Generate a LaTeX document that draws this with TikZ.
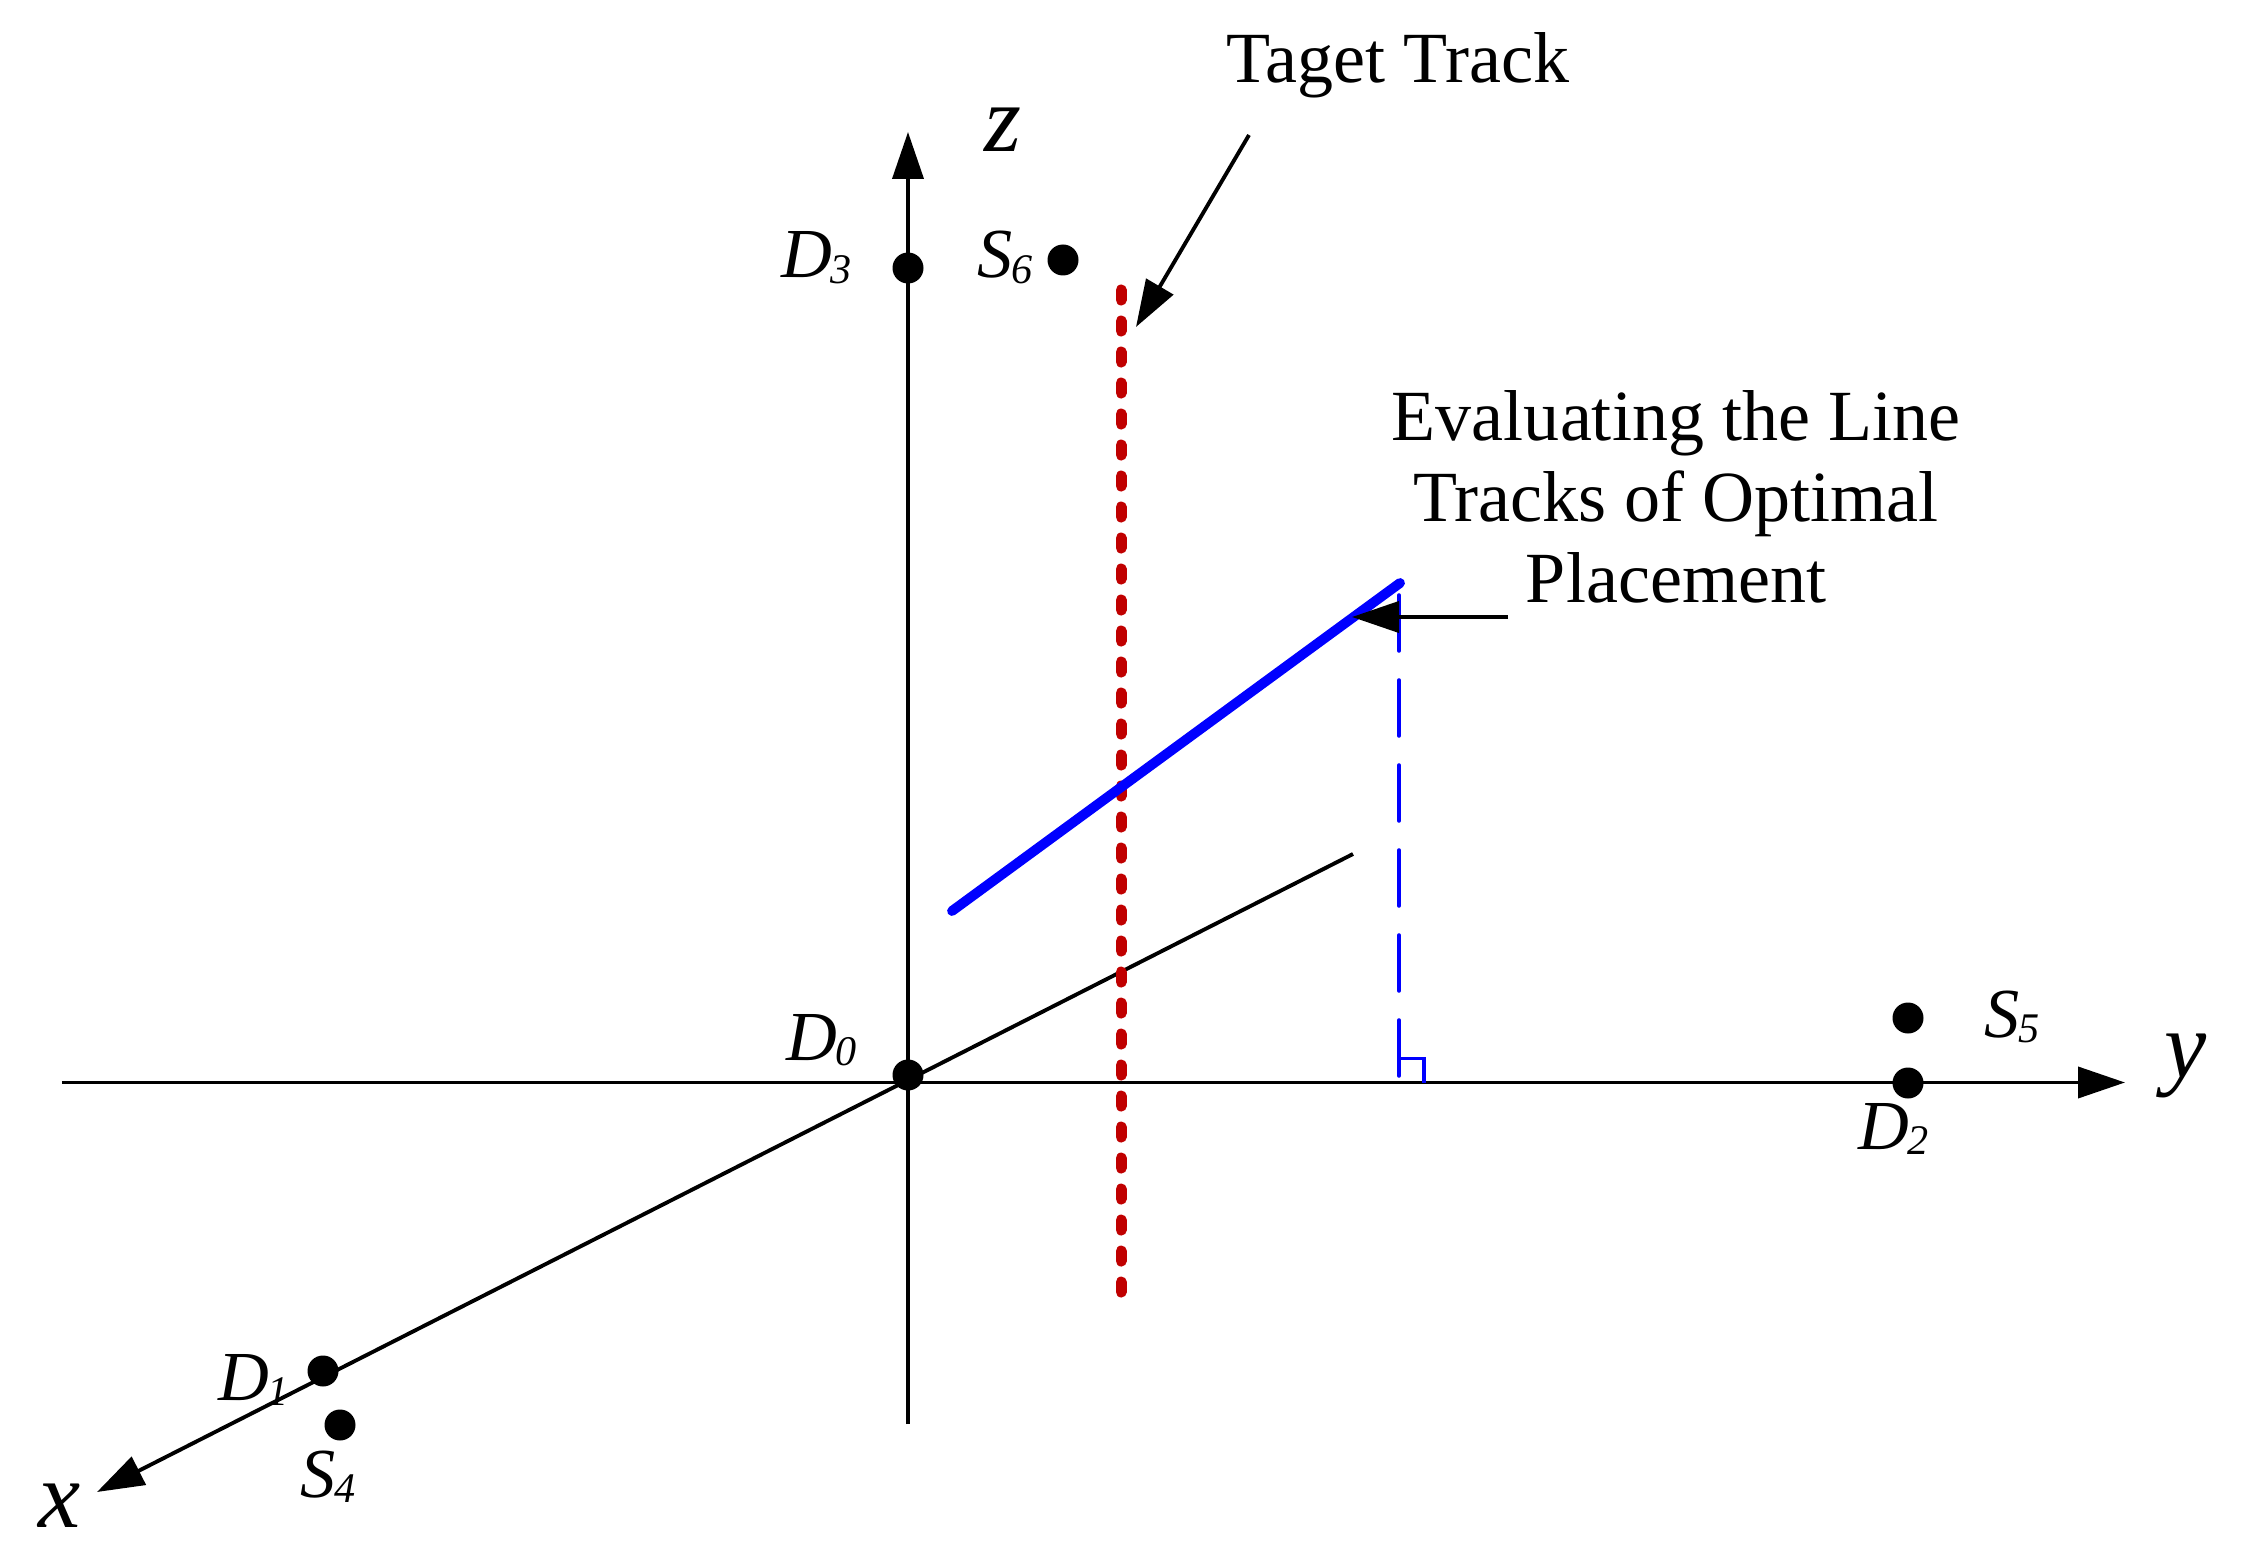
\documentclass[tikz,border=0pt]{standalone}
\usepackage{fontspec}
\setmainfont{Liberation Serif}
\usetikzlibrary{arrows.meta}
\definecolor{trackred}{RGB}{192, 0, 0}
\definecolor{trackblue}{RGB}{0, 0, 255}
\newcommand{\ptname}[2]{\textit{#1}\kern-0.5pt\raisebox{-1.5pt}{\fontsize{12}{12}\selectfont\textit{#2}}}

\begin{document}
\begin{tikzpicture}[
  station/.style={
    circle,
    fill=black,
    inner sep=0pt,
    minimum size=0.31cm,
  },
  ptlabel/.style={
    anchor=base,
    inner sep=0pt,
    font=\fontsize{20}{24}\selectfont,
  },
  axislabel/.style={
    anchor=base,
    inner sep=0pt,
    font=\fontsize{27}{30}\selectfont\itshape,
  },
  note/.style={
    inner sep=0pt,
    align=center,
    font=\fontsize{20.5}{23}\selectfont,
  },
  axis/.style={
    line width=1.1pt,
    -{Triangle[length=0.47cm, width=0.31cm]},
  }
]
  \useasboundingbox (0, 0) rectangle (22.42, 15.66);

  % === AXES ===
  \coordinate (o) at (9.08, 4.835);
  \coordinate (y-start) at (0.62, 4.835);
  \coordinate (y-end) at (21.25, 4.835);
  \coordinate (z-start) at (9.08, 1.42);
  \coordinate (z-end) at (9.08, 14.34);
  \coordinate (x-start) at (13.53, 7.12);
  \coordinate (x-end) at (0.97, 0.74);
  \draw[axis] (y-start) -- (y-end);
  \draw[axis] (z-start) -- (z-end);
  \draw[axis] (x-start) -- (x-end);

  \node[axislabel] (x-lbl) at (0.60, 0.39) {x};
  \node[axislabel] (y-lbl) at (21.86, 4.89) {y};
  \node[axislabel] (z-lbl) at (10.03, 14.14) {z};

  % === STATIONS ===
  \node[station] (d0) at (9.08, 4.91) {};
  \node[station] (d1) at (3.23, 1.95) {};
  \node[station] (d2) at (19.08, 4.83) {};
  \node[station] (d3) at (9.08, 12.98) {};
  \node[station] (s4) at (3.40, 1.41) {};
  \node[station] (s5) at (19.08, 5.48) {};
  \node[station] (s6) at (10.63, 13.06) {};

  \node[ptlabel] (d0-lbl) at (8.22, 5.06) {\ptname{D}{0}};
  \node[ptlabel] (d1-lbl) at (2.54, 1.66) {\ptname{D}{1}};
  \node[ptlabel] (d2-lbl) at (18.94, 4.17) {\ptname{D}{2}};
  \node[ptlabel] (d3-lbl) at (8.17, 12.88) {\ptname{D}{3}};
  \node[ptlabel] (s4-lbl) at (3.28, 0.69) {\ptname{S}{4}};
  \node[ptlabel] (s5-lbl) at (20.12, 5.29) {\ptname{S}{5}};
  \node[ptlabel] (s6-lbl) at (10.05, 12.88) {\ptname{S}{6}};

  % === TRACKS ===
  % target track (red, dotted)
  \coordinate (red-top) at (11.21, 12.76);
  \coordinate (red-bot) at (11.21, 2.74);
  \draw[trackred, line width=0.11cm, line cap=round, dash pattern=on 0.1cm off 0.21cm] (red-top) -- (red-bot);

  % evaluated line track (blue) and its foot on the y axis
  \coordinate (blue-a) at (9.52, 6.55);
  \coordinate (blue-b) at (14.00, 9.83);
  \draw[trackblue, line width=2.8pt, line cap=round] (blue-a) -- (blue-b);
  \coordinate (perp-top) at (13.99, 9.71);
  \coordinate (perp-foot) at (13.99, 4.835);
  \draw[trackblue, line width=1pt, line cap=round, dash pattern=on 0.56cm off 0.29cm] (perp-top) -- (perp-foot);
  \draw[trackblue, line width=1pt] (13.99, 5.075) -| (14.24, 4.835);

  % === NOTES ===
  \node[note, anchor=base] (taget) at (13.98, 14.83) {Taget Track};
  \coordinate (taget-from) at (12.49, 14.31);
  \coordinate (taget-to) at (11.36, 12.39);
  \draw[axis] (taget-from) -- (taget-to);

  \node[note] (eval) at (16.76, 10.69) {Evaluating the Line\\ Tracks of Optimal\\ Placement};
  \coordinate (eval-from) at (15.08, 9.49);
  \coordinate (eval-to) at (13.52, 9.49);
  \draw[axis] (eval-from) -- (eval-to);

\end{tikzpicture}
\end{document}
